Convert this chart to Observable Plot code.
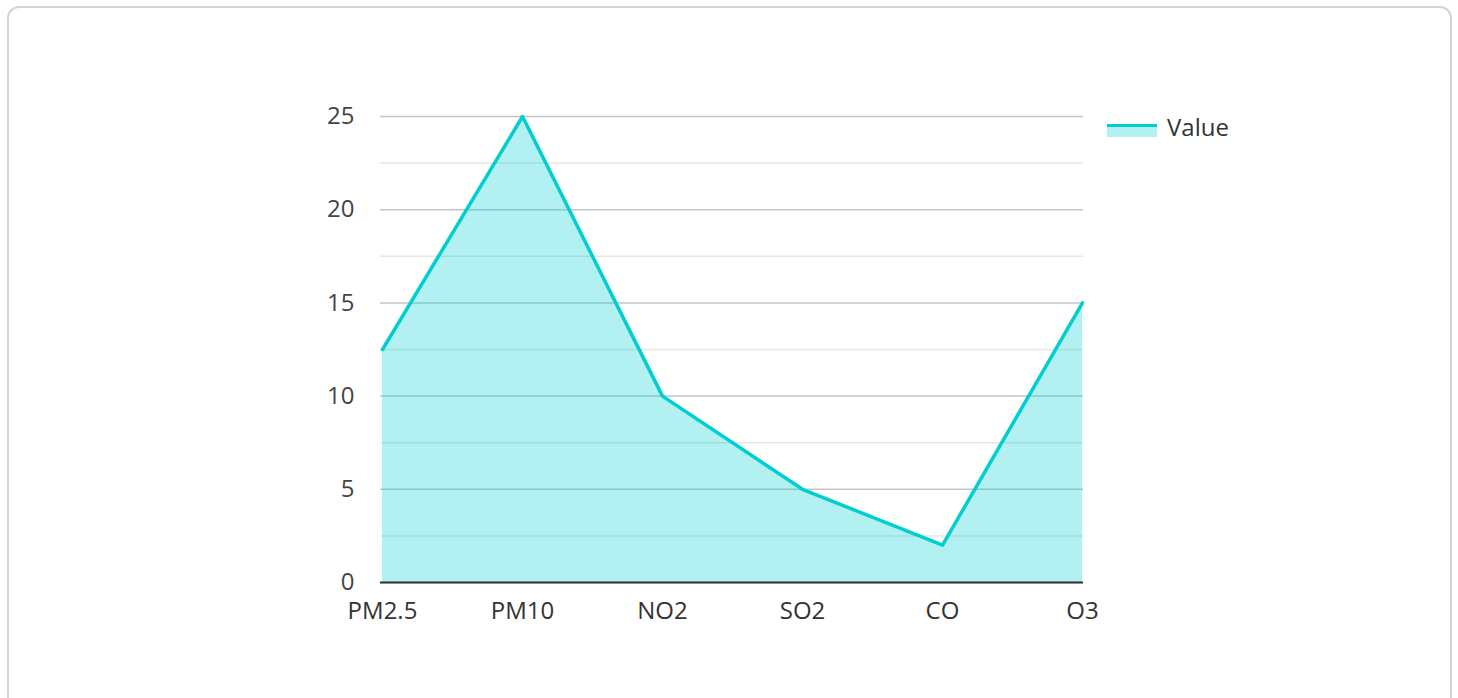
<!DOCTYPE html>
<html>
<head>
<meta charset="utf-8">
<script src="https://cdn.jsdelivr.net/npm/d3@7"></script>
<script src="https://cdn.jsdelivr.net/npm/@observablehq/plot@0.6"></script>
<style>
  html, body { margin: 0; padding: 0; background: #fff; width: 1458px; height: 698px; overflow: hidden; font-family: "Open Sans", sans-serif; }
  #card { position: absolute; left: 7px; top: 6px; width: 1445px; height: 710px; border: 2px solid #d4d4d4; border-radius: 12px; box-sizing: border-box; }
  #chart { position: absolute; left: 0; top: 0; }
  #legend { position: absolute; left: 1107px; top: 110px; display: flex; align-items: center; font-size: 24px; color: #333; }
  #legend .sw { width: 50px; height: 13px; position: relative; margin-right: 10px; margin-top: 8px; }
  #legend .sw .fill { position: absolute; left: 0; top: 2px; width: 50px; height: 11px; background: rgba(0,206,209,0.3); }
  #legend .sw .ln { position: absolute; left: 0; top: 0; width: 50px; height: 3px; background: #00ced1; }
</style>
</head>
<body>
<div id="card"></div>
<div id="chart"></div>
<div id="legend"><div class="sw"><div class="fill"></div><div class="ln"></div></div><span>Value</span></div>
<script>
const categories = ["PM2.5", "PM10", "NO2", "SO2", "CO", "O3"];
const values = [12.5, 25, 10, 5, 2, 15];
const majorTicks = [0, 5, 10, 15, 20, 25];
const minorTicks = [2.5, 7.5, 12.5, 17.5, 22.5];
const seriesName = "Value";

const data = categories.map((c, i) => ({ category: c, value: values[i] }));

const chart = Plot.plot({
  width: 1458,
  height: 698,
  marginLeft: 380,
  marginRight: 375,
  marginTop: 116,
  marginBottom: 116,
  style: { fontFamily: "Open Sans, sans-serif", fontSize: "24px", color: "#444", background: "transparent" },
  x: { type: "point", domain: categories, padding: 0, label: null },
  y: { domain: [0, 25], label: null },
  marks: [
    Plot.ruleY(minorTicks, { stroke: "#e6e6e6", strokeWidth: 1.5 }),
    Plot.ruleY(majorTicks, { stroke: "#c4c4c4", strokeWidth: 1.5 }),
    Plot.areaY(data, { x: "category", y: "value", fill: "#00ced1", fillOpacity: 0.3 }),
    Plot.lineY(data, { x: "category", y: "value", stroke: "#00ced1", strokeWidth: 3.5 }),
    Plot.ruleY([0], { stroke: "#333", strokeWidth: 2 }),
    Plot.axisY(majorTicks, { tickSize: 0, tickPadding: 26, fontSize: 24, fill: "#444" }),
    Plot.axisX(categories, { tickSize: 0, tickPadding: 19, fontSize: 24, fill: "#333" })
  ]
});
document.getElementById("chart").appendChild(chart);
</script>
</body>
</html>
